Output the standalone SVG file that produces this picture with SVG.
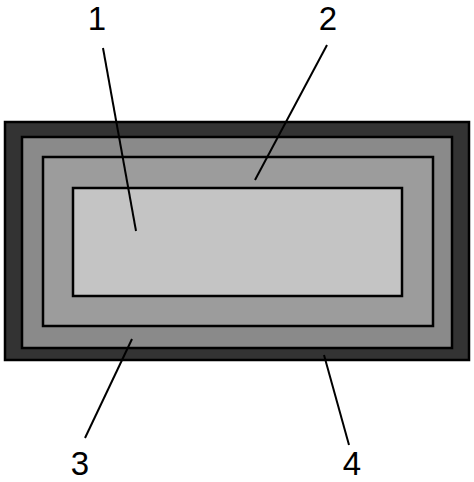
<svg xmlns="http://www.w3.org/2000/svg" width="474" height="482" viewBox="0 0 474 482">
<style>
.r{stroke:#000;stroke-width:2.5}
.l{stroke:#000;stroke-width:2;fill:none}
text{font-family:"Liberation Sans",Arial,sans-serif;font-size:33px;fill:#000;text-anchor:middle}
</style>
<rect width="474" height="482" fill="#fff"/>
<g id="layer4"><rect class="r" x="5" y="122" width="464" height="238" fill="#333333"/></g>
<g id="layer3"><rect class="r" x="22" y="137" width="430" height="211" fill="#8a8a8a"/></g>
<g id="layer2"><rect class="r" x="43" y="157" width="390" height="169" fill="#9c9c9c"/></g>
<g id="layer1"><rect class="r" x="73" y="188" width="329" height="108" fill="#c4c4c4"/></g>
<g id="connectors">
<line class="l" x1="103" y1="48" x2="136" y2="231"/>
<line class="l" x1="327" y1="45" x2="255" y2="180"/>
<line class="l" x1="132" y1="339" x2="85" y2="438"/>
<line class="l" x1="324" y1="355" x2="349" y2="445"/>
</g>
<g id="label1"><text x="97" y="30">1</text></g>
<g id="label2"><text x="328" y="30">2</text></g>
<g id="label3"><text x="80" y="475">3</text></g>
<g id="label4"><text x="352" y="475">4</text></g>
</svg>
